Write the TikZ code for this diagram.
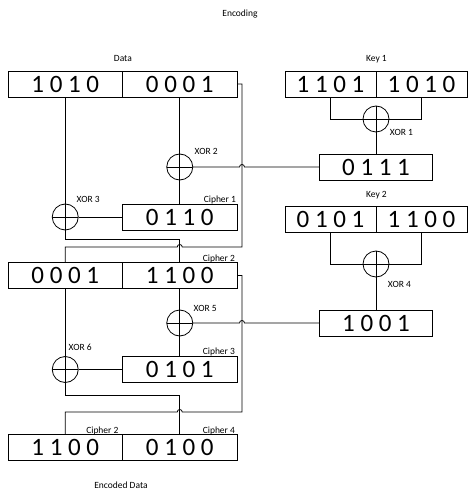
\documentclass[tikz,border=0pt]{standalone}
\usepackage{fontspec}
\setmainfont{Carlito}
\usetikzlibrary{positioning,calc}

\begin{document}
\begin{tikzpicture}[x=1pt,y=-1pt,line width=0.8pt,
  half/.style={draw,minimum width=#1,minimum height=26pt,inner sep=0pt,font=\fontsize{25}{30}\selectfont},
  half/.default=114.5pt,
  xor/.style={draw,circle,minimum size=26pt,inner sep=0pt,
    path picture={\draw (path picture bounding box.north) -- (path picture bounding box.south)
      (path picture bounding box.west) -- (path picture bounding box.east);}},
  lbl/.style={font=\fontsize{9.5}{11}\selectfont,inner sep=0pt}]
\useasboundingbox (0,0) rectangle (474,502);
\node[lbl] (tt) at (240,14) {Encoding};
% left column
\node[half] (dL) at (65.25,84) {1 0 1 0};
\node[half] (dR) at (179.75,84) {0 0 0 1};
\node[lbl,above=9pt of dL.north east] (ld) {Data};
\node[xor] (x2) at (179.75,167) {};
\node[xor] (x3) at (65.25,217) {};
\node[half] (c1) at (179.75,217) {0 1 1 0};
\node[half] (c2L) at (65.25,275.5) {0 0 0 1};
\node[half] (c2R) at (179.75,275.5) {1 1 0 0};
\node[xor] (x5) at (179.75,323) {};
\node[xor] (x6) at (65.25,369.5) {};
\node[half] (c3) at (179.75,369.5) {0 1 0 1};
\node[half] (eL) at (65.25,447.5) {1 1 0 0};
\node[half] (eR) at (179.75,447.5) {0 1 0 0};
\node[lbl] (te) at (121,485) {Encoded Data};
% right column
\node[half=91pt] (k1L) at (330.5,84) {1 1 0 1};
\node[half=91pt] (k1R) at (421.5,84) {1 0 1 0};
\node[lbl,above=7pt of k1L.north east] (lk1) {Key 1};
\node[xor] (x1) at (376,119) {};
\node[half=113pt] (o1) at (376,167) {0 1 1 1};
\node[half=91pt] (k2L) at (330.5,219.5) {0 1 0 1};
\node[half=91pt] (k2R) at (421.5,219.5) {1 1 0 0};
\node[lbl,above=7pt of k2L.north east] (lk2) {Key 2};
\node[xor] (x4) at (376,264) {};
\node[half=113pt] (o2) at (376,323) {1 0 0 1};
% labels
\node[lbl,anchor=north west] (lx1) at ([xshift=4pt]x1.south east) {XOR 1};
\node[lbl,anchor=south west] (lx2) at ([xshift=5pt,yshift=3pt]x2.north east) {XOR 2};
\node[lbl,anchor=south west] (lx3) at ([xshift=1.5pt,yshift=5pt]x3.north east) {XOR 3};
\node[lbl,anchor=north west] (lx4) at ([xshift=2pt,yshift=-7pt]x4.south east) {XOR 4};
\node[lbl,anchor=south west] (lx5) at ([xshift=4pt,yshift=2pt]x5.north east) {XOR 5};
\node[lbl,anchor=south west] (lx6) at ([xshift=3pt,yshift=5pt]x6.north) {XOR 6};
\node[lbl,anchor=base east] (lc1) at ([xshift=-1pt,yshift=1pt]c1.north east) {Cipher 1};
\node[lbl,anchor=base east] (lc2) at ([xshift=-2pt,yshift=1pt]c2R.north east) {Cipher 2};
\node[lbl,anchor=base east] (lc3) at ([xshift=-2pt,yshift=2pt]c3.north east) {Cipher 3};
\node[lbl,anchor=base east] (le2) at ([xshift=-4pt,yshift=1pt]eL.north east) {Cipher 2};
\node[lbl,anchor=base east] (le4) at ([xshift=-2pt,yshift=1pt]eR.north east) {Cipher 4};
\coordinate (ra) at (242,247);
\coordinate (rb) at (242,412);
\coordinate (j3) at (179.75,239);
\coordinate (j6) at (179.75,395);
% key 1
\draw (k1L.south) |- (x1.west);
\draw (k1R.south) |- (x1.east);
\draw (x1.south) -- (o1.north);
% key 2
\draw (k2L.south) |- (x4.west);
\draw (k2R.south) |- (x4.east);
\draw (x4.south) -- (o2.north);
% round 1
\draw (dL.south) -- (x3.north);
\draw (dR.south) -- (x2.north);
\draw (x2.south) -- (c1.north);
\draw (x3.east) -- (c1.west);
\draw (x2.east) -- ($(ra |- x2.east)+(-2.5pt,0)$) arc[start angle=180,end angle=0,radius=2.5pt] -- (o1.west);
\draw (x3.south) |- (j3) -- (c2R.north);
\draw (dR.east) -| (ra) -- ($(c2R.north |- ra)+(2.5pt,0)$) arc[start angle=0,end angle=180,radius=2.5pt] -| (c2L.north);
% round 2
\draw (c2L.south) -- (x6.north);
\draw (c2R.south) -- (x5.north);
\draw (x5.south) -- (c3.north);
\draw (x6.east) -- (c3.west);
\draw (x5.east) -- ($(rb |- x5.east)+(-2.5pt,0)$) arc[start angle=180,end angle=0,radius=2.5pt] -- (o2.west);
\draw (x6.south) |- (j6) -- (eR.north);
\draw (c2R.east) -| (rb) -- ($(eR.north |- rb)+(2.5pt,0)$) arc[start angle=0,end angle=180,radius=2.5pt] -| (eL.north);
\end{tikzpicture}
\end{document}
